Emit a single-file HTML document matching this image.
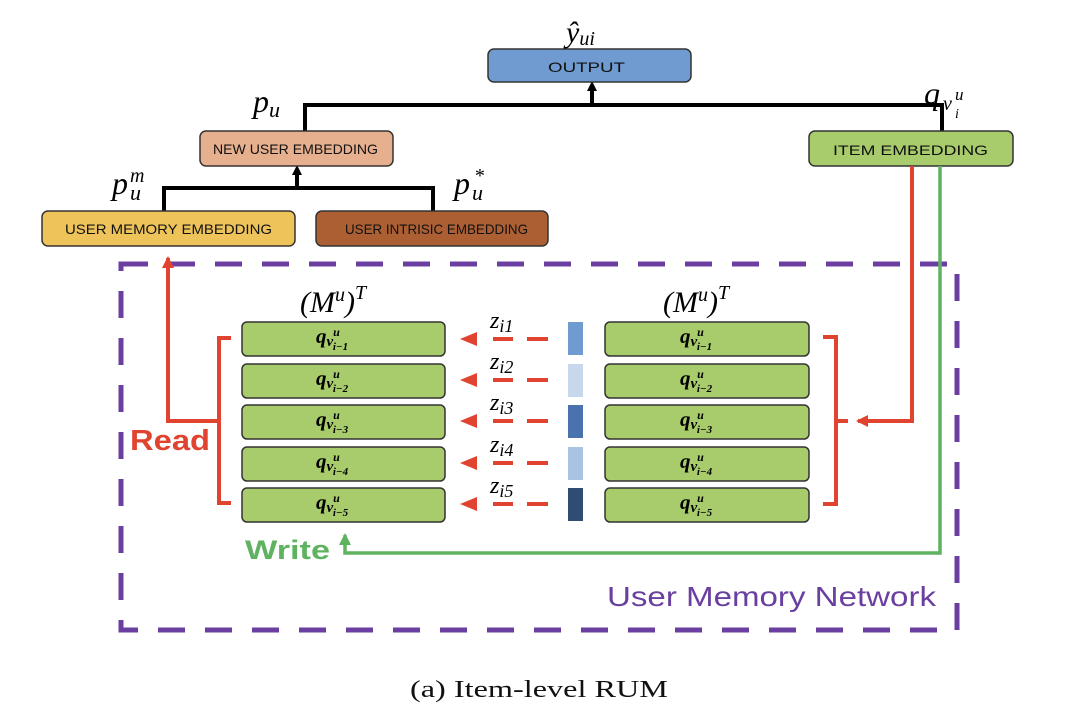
<!DOCTYPE html>
<html><head><meta charset="utf-8"><style>
html,body{margin:0;padding:0;background:#fff;}
svg{display:block;}
.bx{font-family:"Liberation Sans",sans-serif;font-size:14px;fill:#111;}
.m{font-family:"Liberation Serif",serif;font-style:italic;fill:#000;}
</style></head><body>
<svg width="1080" height="723" viewBox="0 0 1080 723" xmlns="http://www.w3.org/2000/svg">
<defs>
<marker id="ab" markerWidth="10" markerHeight="10" refX="5" refY="5" orient="auto" markerUnits="userSpaceOnUse"><path d="M0,0 L10,5 L0,10 z" fill="#000"/></marker>
<marker id="ar" markerWidth="12" markerHeight="12" refX="10" refY="6" orient="auto" markerUnits="userSpaceOnUse"><path d="M0,0 L12,6 L0,12 z" fill="#e0432f"/></marker>
<marker id="ag" markerWidth="12" markerHeight="12" refX="10" refY="6" orient="auto" markerUnits="userSpaceOnUse"><path d="M0,0 L12,6 L0,12 z" fill="#5fb25f"/></marker>
</defs>

<rect x="121" y="264" width="836" height="366" fill="none" stroke="#6a3fa0" stroke-width="5" stroke-dasharray="27 20"/>

<polyline points="305,131 305,105 942,105 942,131" fill="none" stroke="#000" stroke-width="4"/>
<line x1="592" y1="105" x2="592" y2="86" stroke="#000" stroke-width="4" marker-end="url(#ab)"/>
<polyline points="164,211 164,188 433,188 433,211" fill="none" stroke="#000" stroke-width="4"/>
<line x1="297" y1="188" x2="297" y2="170" stroke="#000" stroke-width="4" marker-end="url(#ab)"/>

<rect x="488" y="49" width="203" height="33" rx="6" fill="#6f9bd0" stroke="#333" stroke-width="1.5"/>
<text class="bx" x="548" y="72" font-size="16" textLength="77" lengthAdjust="spacingAndGlyphs">OUTPUT</text>
<rect x="200" y="131" width="193" height="35" rx="6" fill="#e6b08f" stroke="#333" stroke-width="1.5"/>
<text class="bx" x="213" y="154" textLength="165" lengthAdjust="spacingAndGlyphs">NEW USER EMBEDDING</text>
<rect x="809" y="131" width="204" height="35" rx="6" fill="#a8cb6c" stroke="#333" stroke-width="1.5"/>
<text class="bx" x="833" y="155" font-size="15" textLength="155" lengthAdjust="spacingAndGlyphs">ITEM EMBEDDING</text>
<rect x="42" y="211" width="253" height="35" rx="6" fill="#eec45a" stroke="#333" stroke-width="1.5"/>
<text class="bx" x="65" y="234" textLength="207" lengthAdjust="spacingAndGlyphs">USER MEMORY EMBEDDING</text>
<rect x="316" y="211" width="232" height="35" rx="6" fill="#ad5f34" stroke="#333" stroke-width="1.5"/>
<text class="bx" x="345" y="234" textLength="183" lengthAdjust="spacingAndGlyphs">USER INTRISIC EMBEDDING</text>

<text class="m" x="566" y="42" font-size="30">ŷ<tspan font-size="20" dy="3">ui</tspan></text>
<text class="m" x="253" y="112" font-size="32">p<tspan font-size="22" dy="5">u</tspan></text>
<text class="m" x="112" y="194" font-size="32">p</text><text class="m" x="130" y="200" font-size="22">u</text><text class="m" x="130" y="182" font-size="20">m</text>
<text class="m" x="454" y="194" font-size="32">p</text><text class="m" x="472" y="200" font-size="22">u</text><text class="m" x="474" y="182" font-size="20">*</text>
<text class="m" x="924" y="104" font-size="32">q</text><text class="m" x="943" y="110" font-size="20">v</text><text class="m" x="955" y="100" font-size="17">u</text><text class="m" x="955" y="118" font-size="14">i</text>

<text class="m" x="300" y="312" font-size="30" font-style="normal">(<tspan font-style="italic">M</tspan><tspan font-size="20" dy="-11" font-style="italic">u</tspan><tspan dy="11">)</tspan><tspan font-size="20" dy="-13" font-style="italic">T</tspan></text>
<text class="m" x="663" y="312" font-size="30" font-style="normal">(<tspan font-style="italic">M</tspan><tspan font-size="20" dy="-11" font-style="italic">u</tspan><tspan dy="11">)</tspan><tspan font-size="20" dy="-13" font-style="italic">T</tspan></text>

<g>
<rect x="242" y="322" width="203" height="34" rx="5" fill="#a8cb6c" stroke="#333" stroke-width="1.5"/>
<rect x="242" y="364" width="203" height="34" rx="5" fill="#a8cb6c" stroke="#333" stroke-width="1.5"/>
<rect x="242" y="405" width="203" height="34" rx="5" fill="#a8cb6c" stroke="#333" stroke-width="1.5"/>
<rect x="242" y="447" width="203" height="34" rx="5" fill="#a8cb6c" stroke="#333" stroke-width="1.5"/>
<rect x="242" y="488" width="203" height="34" rx="5" fill="#a8cb6c" stroke="#333" stroke-width="1.5"/>
<rect x="605" y="322" width="204" height="34" rx="5" fill="#a8cb6c" stroke="#333" stroke-width="1.5"/>
<rect x="605" y="364" width="204" height="34" rx="5" fill="#a8cb6c" stroke="#333" stroke-width="1.5"/>
<rect x="605" y="405" width="204" height="34" rx="5" fill="#a8cb6c" stroke="#333" stroke-width="1.5"/>
<rect x="605" y="447" width="204" height="34" rx="5" fill="#a8cb6c" stroke="#333" stroke-width="1.5"/>
<rect x="605" y="488" width="204" height="34" rx="5" fill="#a8cb6c" stroke="#333" stroke-width="1.5"/>
</g>
<g class="m" font-weight="bold">
<text x="316" y="343" font-size="21">q<tspan font-size="15" dy="3">v</tspan><tspan font-size="12" dy="-10">u</tspan><tspan font-size="11" dx="-7" dy="14">i−1</tspan></text>
<text x="316" y="385" font-size="21">q<tspan font-size="15" dy="3">v</tspan><tspan font-size="12" dy="-10">u</tspan><tspan font-size="11" dx="-7" dy="14">i−2</tspan></text>
<text x="316" y="426" font-size="21">q<tspan font-size="15" dy="3">v</tspan><tspan font-size="12" dy="-10">u</tspan><tspan font-size="11" dx="-7" dy="14">i−3</tspan></text>
<text x="316" y="468" font-size="21">q<tspan font-size="15" dy="3">v</tspan><tspan font-size="12" dy="-10">u</tspan><tspan font-size="11" dx="-7" dy="14">i−4</tspan></text>
<text x="316" y="509" font-size="21">q<tspan font-size="15" dy="3">v</tspan><tspan font-size="12" dy="-10">u</tspan><tspan font-size="11" dx="-7" dy="14">i−5</tspan></text>
<text x="680" y="343" font-size="21">q<tspan font-size="15" dy="3">v</tspan><tspan font-size="12" dy="-10">u</tspan><tspan font-size="11" dx="-7" dy="14">i−1</tspan></text>
<text x="680" y="385" font-size="21">q<tspan font-size="15" dy="3">v</tspan><tspan font-size="12" dy="-10">u</tspan><tspan font-size="11" dx="-7" dy="14">i−2</tspan></text>
<text x="680" y="426" font-size="21">q<tspan font-size="15" dy="3">v</tspan><tspan font-size="12" dy="-10">u</tspan><tspan font-size="11" dx="-7" dy="14">i−3</tspan></text>
<text x="680" y="468" font-size="21">q<tspan font-size="15" dy="3">v</tspan><tspan font-size="12" dy="-10">u</tspan><tspan font-size="11" dx="-7" dy="14">i−4</tspan></text>
<text x="680" y="509" font-size="21">q<tspan font-size="15" dy="3">v</tspan><tspan font-size="12" dy="-10">u</tspan><tspan font-size="11" dx="-7" dy="14">i−5</tspan></text>
</g>

<rect x="568" y="322" width="15" height="33" fill="#6f9bd0"/>
<rect x="568" y="364" width="15" height="33" fill="#c7d8ec"/>
<rect x="568" y="405" width="15" height="33" fill="#4a73ad"/>
<rect x="568" y="447" width="15" height="33" fill="#a9c4e2"/>
<rect x="568" y="488" width="15" height="33" fill="#2f4d74"/>

<g stroke="#e0432f" stroke-width="4">
<line x1="493" y1="339" x2="513" y2="339"/><line x1="527" y1="339" x2="548" y2="339"/>
<line x1="493" y1="380" x2="513" y2="380"/><line x1="527" y1="380" x2="548" y2="380"/>
<line x1="493" y1="421" x2="513" y2="421"/><line x1="527" y1="421" x2="548" y2="421"/>
<line x1="493" y1="463" x2="513" y2="463"/><line x1="527" y1="463" x2="548" y2="463"/>
<line x1="493" y1="504" x2="513" y2="504"/><line x1="527" y1="504" x2="548" y2="504"/>
</g>
<g fill="#e0432f">
<path d="M460,339 L477,332 L477,346 z"/>
<path d="M460,380 L477,373 L477,387 z"/>
<path d="M460,421 L477,414 L477,428 z"/>
<path d="M460,463 L477,456 L477,470 z"/>
<path d="M460,504 L477,497 L477,511 z"/>
</g>
<g class="m" font-size="24">
<text x="490" y="328">z<tspan font-size="18" dy="4">i1</tspan></text>
<text x="490" y="369">z<tspan font-size="18" dy="4">i2</tspan></text>
<text x="490" y="410">z<tspan font-size="18" dy="4">i3</tspan></text>
<text x="490" y="452">z<tspan font-size="18" dy="4">i4</tspan></text>
<text x="490" y="493">z<tspan font-size="18" dy="4">i5</tspan></text>
</g>

<polyline points="231,338 219,338 219,503 231,503" fill="none" stroke="#e0432f" stroke-width="4"/>
<polyline points="219,421 168,421 168,258" fill="none" stroke="#e0432f" stroke-width="4" marker-end="url(#ar)"/>
<text x="130" y="450" font-family="Liberation Sans,sans-serif" font-weight="bold" font-size="29" fill="#e0432f" textLength="80" lengthAdjust="spacingAndGlyphs">Read</text>

<polyline points="823,337 836,337 836,504 823,504" fill="none" stroke="#e0432f" stroke-width="4"/>
<line x1="836" y1="421" x2="848" y2="421" stroke="#e0432f" stroke-width="4"/>
<polyline points="912,166 912,421 858,421" fill="none" stroke="#e0432f" stroke-width="4" marker-end="url(#ar)"/>

<polyline points="940,166 940,553 345,553 345,535" fill="none" stroke="#5fb25f" stroke-width="3.5" marker-end="url(#ag)"/>
<text x="245" y="559" font-family="Liberation Sans,sans-serif" font-weight="bold" font-size="27" fill="#5fb25f" textLength="85" lengthAdjust="spacingAndGlyphs">Write</text>

<text x="607" y="606" font-family="Liberation Sans,sans-serif" font-size="28" fill="#6a3fa0" textLength="329" lengthAdjust="spacingAndGlyphs">User Memory Network</text>

<text x="410" y="697" font-family="Liberation Serif,serif" font-size="24" fill="#111" textLength="258" lengthAdjust="spacingAndGlyphs">(a)  Item-level RUM</text>
</svg>
</body></html>
